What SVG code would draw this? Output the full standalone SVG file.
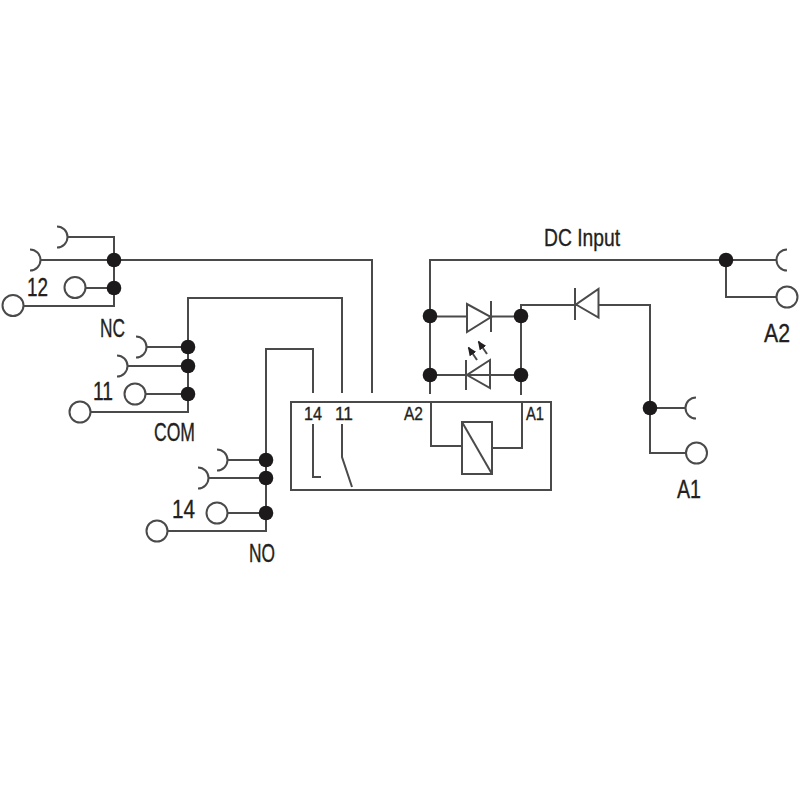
<svg xmlns="http://www.w3.org/2000/svg" xmlns:xlink="http://www.w3.org/1999/xlink" width="800" height="800" viewBox="0 0 800 800">
<style>
.l{fill:none;stroke:#4a4a4a;stroke-width:2}
.w{fill:#fff;stroke:#4a4a4a;stroke-width:2}
.d{fill:#1d1a1b}
text{font-family:"Liberation Sans",Arial,sans-serif;fill:#231f20;stroke:#231f20;stroke-width:.35}
.b{font-size:25.500px}
.s{font-size:18.500px}
</style>
<defs>
<path id="arcR" class="l" d="M-11-10.500A10.500 10.500 0 0 1-11 10.500"/>
<path id="arcL" class="l" d="M11-10.500A10.500 10.500 0 0 0 11 10.500"/>
<marker id="ah" markerUnits="userSpaceOnUse" markerWidth="9" markerHeight="8" refX="8" refY="4" orient="auto"><path d="M0 0L9 4L0 8Z" fill="#231f20"/></marker>
</defs>
<rect width="800" height="800" fill="#fff"/>
<g id="connectors">
<path class="l" d="M68 237H114V306H24"/>
<path class="l" d="M41 260H372V393"/>
<path class="l" d="M85.500 288H114"/>
<path class="l" d="M342 393V298H188V412H91"/>
<path class="l" d="M147 347H188M128 366H188M145.500 394H188"/>
<path class="l" d="M313 393V349H266V531H168"/>
<path class="l" d="M228 460H266M209 478H266M228 513H266"/>
<path class="l" d="M776 260H430V394"/>
<path class="l" d="M726 260V297H776"/>
<path class="l" d="M521 395V305H650V453H696"/>
<path class="l" d="M650 408H685"/>
<path class="l" d="M430 316.500H521M430 375H521"/>
</g>
<g id="relay-box">
<rect class="l" x="291" y="402" width="260" height="88"/>
<path class="l" d="M313 424V477H321"/>
<path class="l" d="M342 424V457L352 487"/>
<path class="l" d="M431 402V446H462M522 402V448H492"/>
<rect class="l" x="462" y="422" width="30" height="52"/>
<path class="l" d="M462 422L492 474"/>
<text class="s" x="304" y="420" textLength="18" lengthAdjust="spacingAndGlyphs">14</text>
<text class="s" x="335" y="420" textLength="18" lengthAdjust="spacingAndGlyphs">11</text>
<text class="s" x="404" y="420" textLength="19" lengthAdjust="spacingAndGlyphs">A2</text>
<text class="s" x="526" y="420" textLength="18" lengthAdjust="spacingAndGlyphs">A1</text>
</g>
<g id="led-bridge">
<path class="w" d="M467 304V332L491 317Z"/>
<path class="l" d="M491 301V332"/>
<path class="w" d="M490 360V388L467 375Z"/>
<path class="l" d="M466 360V390M467 375H490"/>
<path class="l" d="M477 360L468.500 347.500" marker-end="url(#ah)"/>
<path class="l" d="M487 354L478.500 341.500" marker-end="url(#ah)"/>
<circle class="d" cx="430" cy="316" r="7.300"/><circle class="d" cx="521" cy="316" r="7.300"/>
<circle class="d" cx="430" cy="375" r="7.300"/><circle class="d" cx="521" cy="375" r="7.300"/>
</g>
<g id="diode-a1">
<path class="w" d="M598.500 289V317.500L576 304.500Z"/>
<path class="l" d="M575 288V320"/>
</g>
<g id="terminal-nc">
<use href="#arcR" xlink:href="#arcR" x="68" y="237"/><use href="#arcR" xlink:href="#arcR" x="41" y="260"/>
<circle class="d" cx="114" cy="260" r="7.300"/><circle class="d" cx="114" cy="288" r="7.300"/>
<circle class="w" cx="75" cy="287.500" r="10.500"/><circle class="w" cx="13" cy="305.500" r="10.500"/>
<text class="b" x="27" y="296" textLength="21" lengthAdjust="spacingAndGlyphs">12</text>
<text class="b" x="100" y="337" textLength="25" lengthAdjust="spacingAndGlyphs">NC</text>
</g>
<g id="terminal-com">
<use href="#arcR" xlink:href="#arcR" x="147" y="347"/><use href="#arcR" xlink:href="#arcR" x="128" y="366"/>
<circle class="d" cx="188" cy="347" r="7.300"/><circle class="d" cx="188" cy="366" r="7.300"/><circle class="d" cx="188" cy="394" r="7.300"/>
<circle class="w" cx="135" cy="394" r="10.500"/><circle class="w" cx="80" cy="412" r="10.500"/>
<text class="b" x="93" y="400" textLength="20" lengthAdjust="spacingAndGlyphs">11</text>
<text class="b" x="154" y="441" textLength="41" lengthAdjust="spacingAndGlyphs">COM</text>
</g>
<g id="terminal-no">
<use href="#arcR" xlink:href="#arcR" x="228" y="460"/><use href="#arcR" xlink:href="#arcR" x="209" y="478"/>
<circle class="d" cx="266" cy="460" r="7.300"/><circle class="d" cx="266" cy="478" r="7.300"/><circle class="d" cx="266" cy="513" r="7.300"/>
<circle class="w" cx="217" cy="513" r="10.500"/><circle class="w" cx="157" cy="531" r="10.500"/>
<text class="b" x="172" y="518" textLength="23" lengthAdjust="spacingAndGlyphs">14</text>
<text class="b" x="249" y="562" textLength="26" lengthAdjust="spacingAndGlyphs">NO</text>
</g>
<g id="terminal-a2">
<use href="#arcL" xlink:href="#arcL" x="776" y="260"/>
<circle class="d" cx="726" cy="260" r="7.300"/>
<circle class="w" cx="787" cy="297" r="10.500"/>
<text class="b" x="764" y="342" textLength="26" lengthAdjust="spacingAndGlyphs">A2</text>
<text class="b" x="544" y="246" textLength="76" lengthAdjust="spacingAndGlyphs" style="font-size:24px">DC Input</text>
</g>
<g id="terminal-a1">
<use href="#arcL" xlink:href="#arcL" x="685" y="408"/>
<circle class="d" cx="650" cy="408" r="7.300"/>
<circle class="w" cx="696.500" cy="453" r="10.500"/>
<text class="b" x="677" y="498" textLength="24" lengthAdjust="spacingAndGlyphs">A1</text>
</g>
</svg>
